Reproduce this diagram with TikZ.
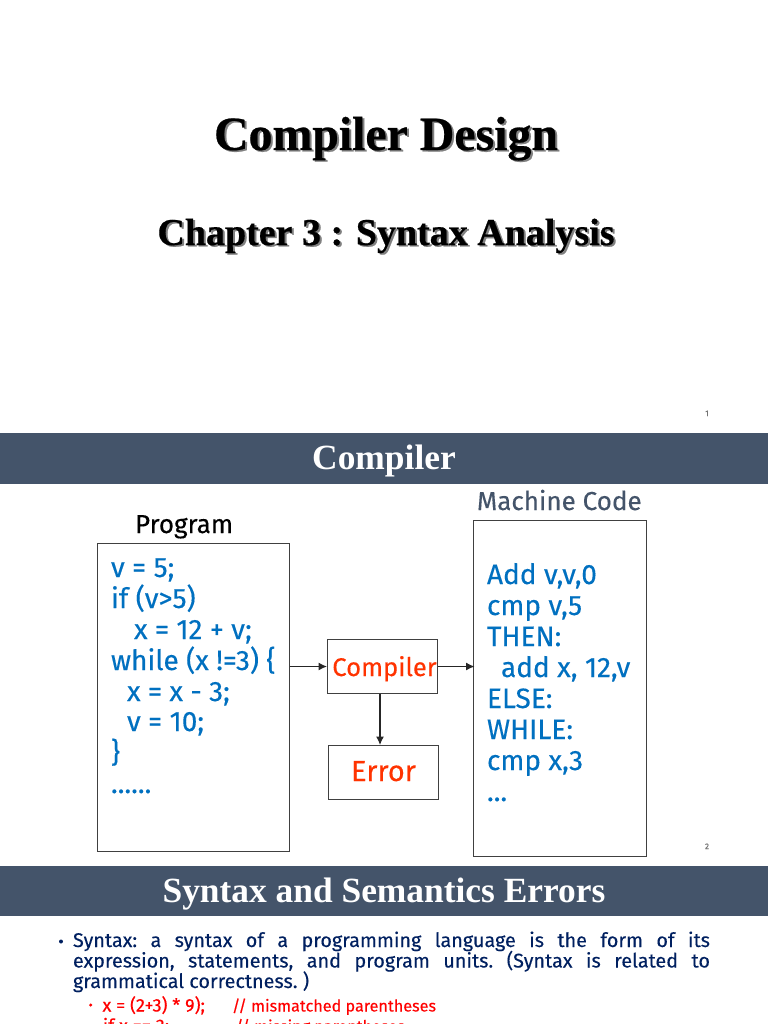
\documentclass[tikz,border=0pt]{standalone}
\usepackage{fontspec}
\setmainfont{Liberation Serif}
\newfontfamily\comic[FakeBold=0.25]{Fira Sans}
\newfontfamily\heavy[FakeBold=0.5]{Liberation Serif Bold}
\usetikzlibrary{arrows.meta}
\definecolor{band}{HTML}{44546A}
\definecolor{codeblue}{HTML}{0070C0}
\definecolor{compred}{HTML}{FF3300}
\definecolor{navy}{HTML}{002060}
\tikzset{
 x=1pt,y=-1pt,
 txt/.style={anchor=base west,inner sep=0pt,outer sep=0pt,font=\comic\fontsize{28}{28}\selectfont},
 ctxt/.style={anchor=base,inner sep=0pt,outer sep=0pt},
 code/.style={txt,text=codeblue},
 boxed/.style={draw=black!75,line width=1pt,fill=white,inner sep=0pt},
 conn/.style={draw=black!85,line width=1.2pt,-{Latex[length=8.5pt,width=8pt]}},
 bandt/.style={ctxt,text=white,font=\bfseries\fontsize{35.4}{35.4}\selectfont},
 err/.style={anchor=base west,inner sep=0pt,outer sep=0pt,text=red,font=\comic\fontsize{16.2}{16.2}\selectfont},
 errcode/.style={err,font=\comic\fontsize{18.2}{18.2}\selectfont},
 syn/.style={anchor=base west,inner sep=0pt,outer sep=0pt,text=navy,font=\comic\fontsize{19.8}{19.8}\selectfont\frenchspacing},
 pg/.style={ctxt,text=black!55,font=\comic\fontsize{8}{8}\selectfont},
 bigtitle/.style={ctxt,font=\heavy\fontsize{47.8}{47.8}\selectfont},
 subtitle/.style={ctxt,font=\heavy\fontsize{38}{38}\selectfont},
}
\begin{document}
\begin{tikzpicture}
\useasboundingbox (0,0) rectangle (768,1024);
\clip (0,0) rectangle (768,1024);
\fill[white] (0,0) rectangle (768,1024);
% title slide
\node[bigtitle,text=black!50] (t1s) at (388,151.5) {Compiler Design};
\node[bigtitle] (t1) at (386,150) {Compiler Design};
\node[subtitle,text=black!50] (t2s) at (388,246.5) {Chapter 3 : Syntax Analysis};
\node[subtitle] (t2) at (386,245) {Chapter 3 : Syntax Analysis};
\node[pg] (p1) at (707,416) {1};
% slide 2
\fill[band] (0,433) rectangle (768,484);
\node[bandt] (h2) at (384,469) {Compiler};
\node[txt,text=band,font=\comic\fontsize{26}{26}\selectfont] (mc) at (477,510) {Machine Code};
\node[txt,font=\comic\fontsize{26}{26}\selectfont] (pr) at (135,533) {Program};
\node[boxed,minimum width=192pt,minimum height=308pt] (prog) at (193.5,697.5) {};
\node[boxed,minimum width=173pt,minimum height=336pt] (mach) at (560,688) {};
\node[boxed,minimum width=110pt,minimum height=54pt] (comp) at (382.5,666.5) {};
\node[boxed,minimum width=110pt,minimum height=54pt] (err) at (383.5,772.5) {};
\node[ctxt,text=compred,font=\comic\fontsize{25.6}{25.6}\selectfont] (compt) at (384.5,676) {Compiler};
\node[ctxt,text=compred,font=\comic\fontsize{29}{29}\selectfont] (errt) at (383.5,781) {Error};
\draw[conn] (prog.east |- comp.west) -- (comp.west);
\draw[conn] (comp.east) -- ([xshift=1.5pt]mach.west |- comp.east);
\draw[conn] (comp.south -| 380,0) -- (err.north -| 380,0);
% program
\node[code] (a1) at (111,577) {v = 5;};
\node[code] (a2) at (111,608) {if (v>5)};
\node[code] (a3) at (134,639) {x = 12 + v;};
\node[code] (a4) at (111,670) {while (x !=3) \{};
\node[code] (a5) at (127,701) {x = x - 3;};
\node[code] (a6) at (127,731) {v = 10;};
\node[code] (a7) at (111,762) {\}};
\node[code] (a8) at (111,793) {......};
% machine
\node[code] (b1) at (487,584) {Add v,v,0};
\node[code] (b2) at (487,615) {cmp v,5};
\node[code] (b3) at (487,646) {THEN:};
\node[code] (b4) at (501,677) {add x, 12,v};
\node[code] (b5) at (487,708) {ELSE:};
\node[code] (b6) at (487,739) {WHILE:};
\node[code] (b7) at (487,770) {cmp x,3};
\node[code] (b8) at (487,801) {...};
\node[pg] (p2) at (707,849) {2};
% slide 3
\fill[band] (0,866) rectangle (768,916);
\node[bandt] (h3) at (384,902) {Syntax and Semantics Errors};
\fill[navy] (61,941.5) circle (2);
\node[syn] (s1) at (73,947) {\hbox to 637pt{Syntax: a syntax of a programming language is the form of its}};
\node[syn] (s2) at (73,967.5) {\hbox to 637pt{expression, statements, and program units. (Syntax is related to}};
\node[syn] (s3) at (73,988) {grammatical correctness. )};
\fill[red] (90.7,1005) circle (1.7);
\node[errcode] (e1) at (102.5,1011.5) {x = (2+3) * 9);};
\node[err] (e1b) at (232,1011.5) {// mismatched parentheses};
\fill[red] (90.7,1026) circle (1.7);
\node[errcode] (e2) at (103,1032) {if x == 3;};
\node[err] (e2b) at (235,1032) {// missing parentheses};
\end{tikzpicture}
\end{document}
